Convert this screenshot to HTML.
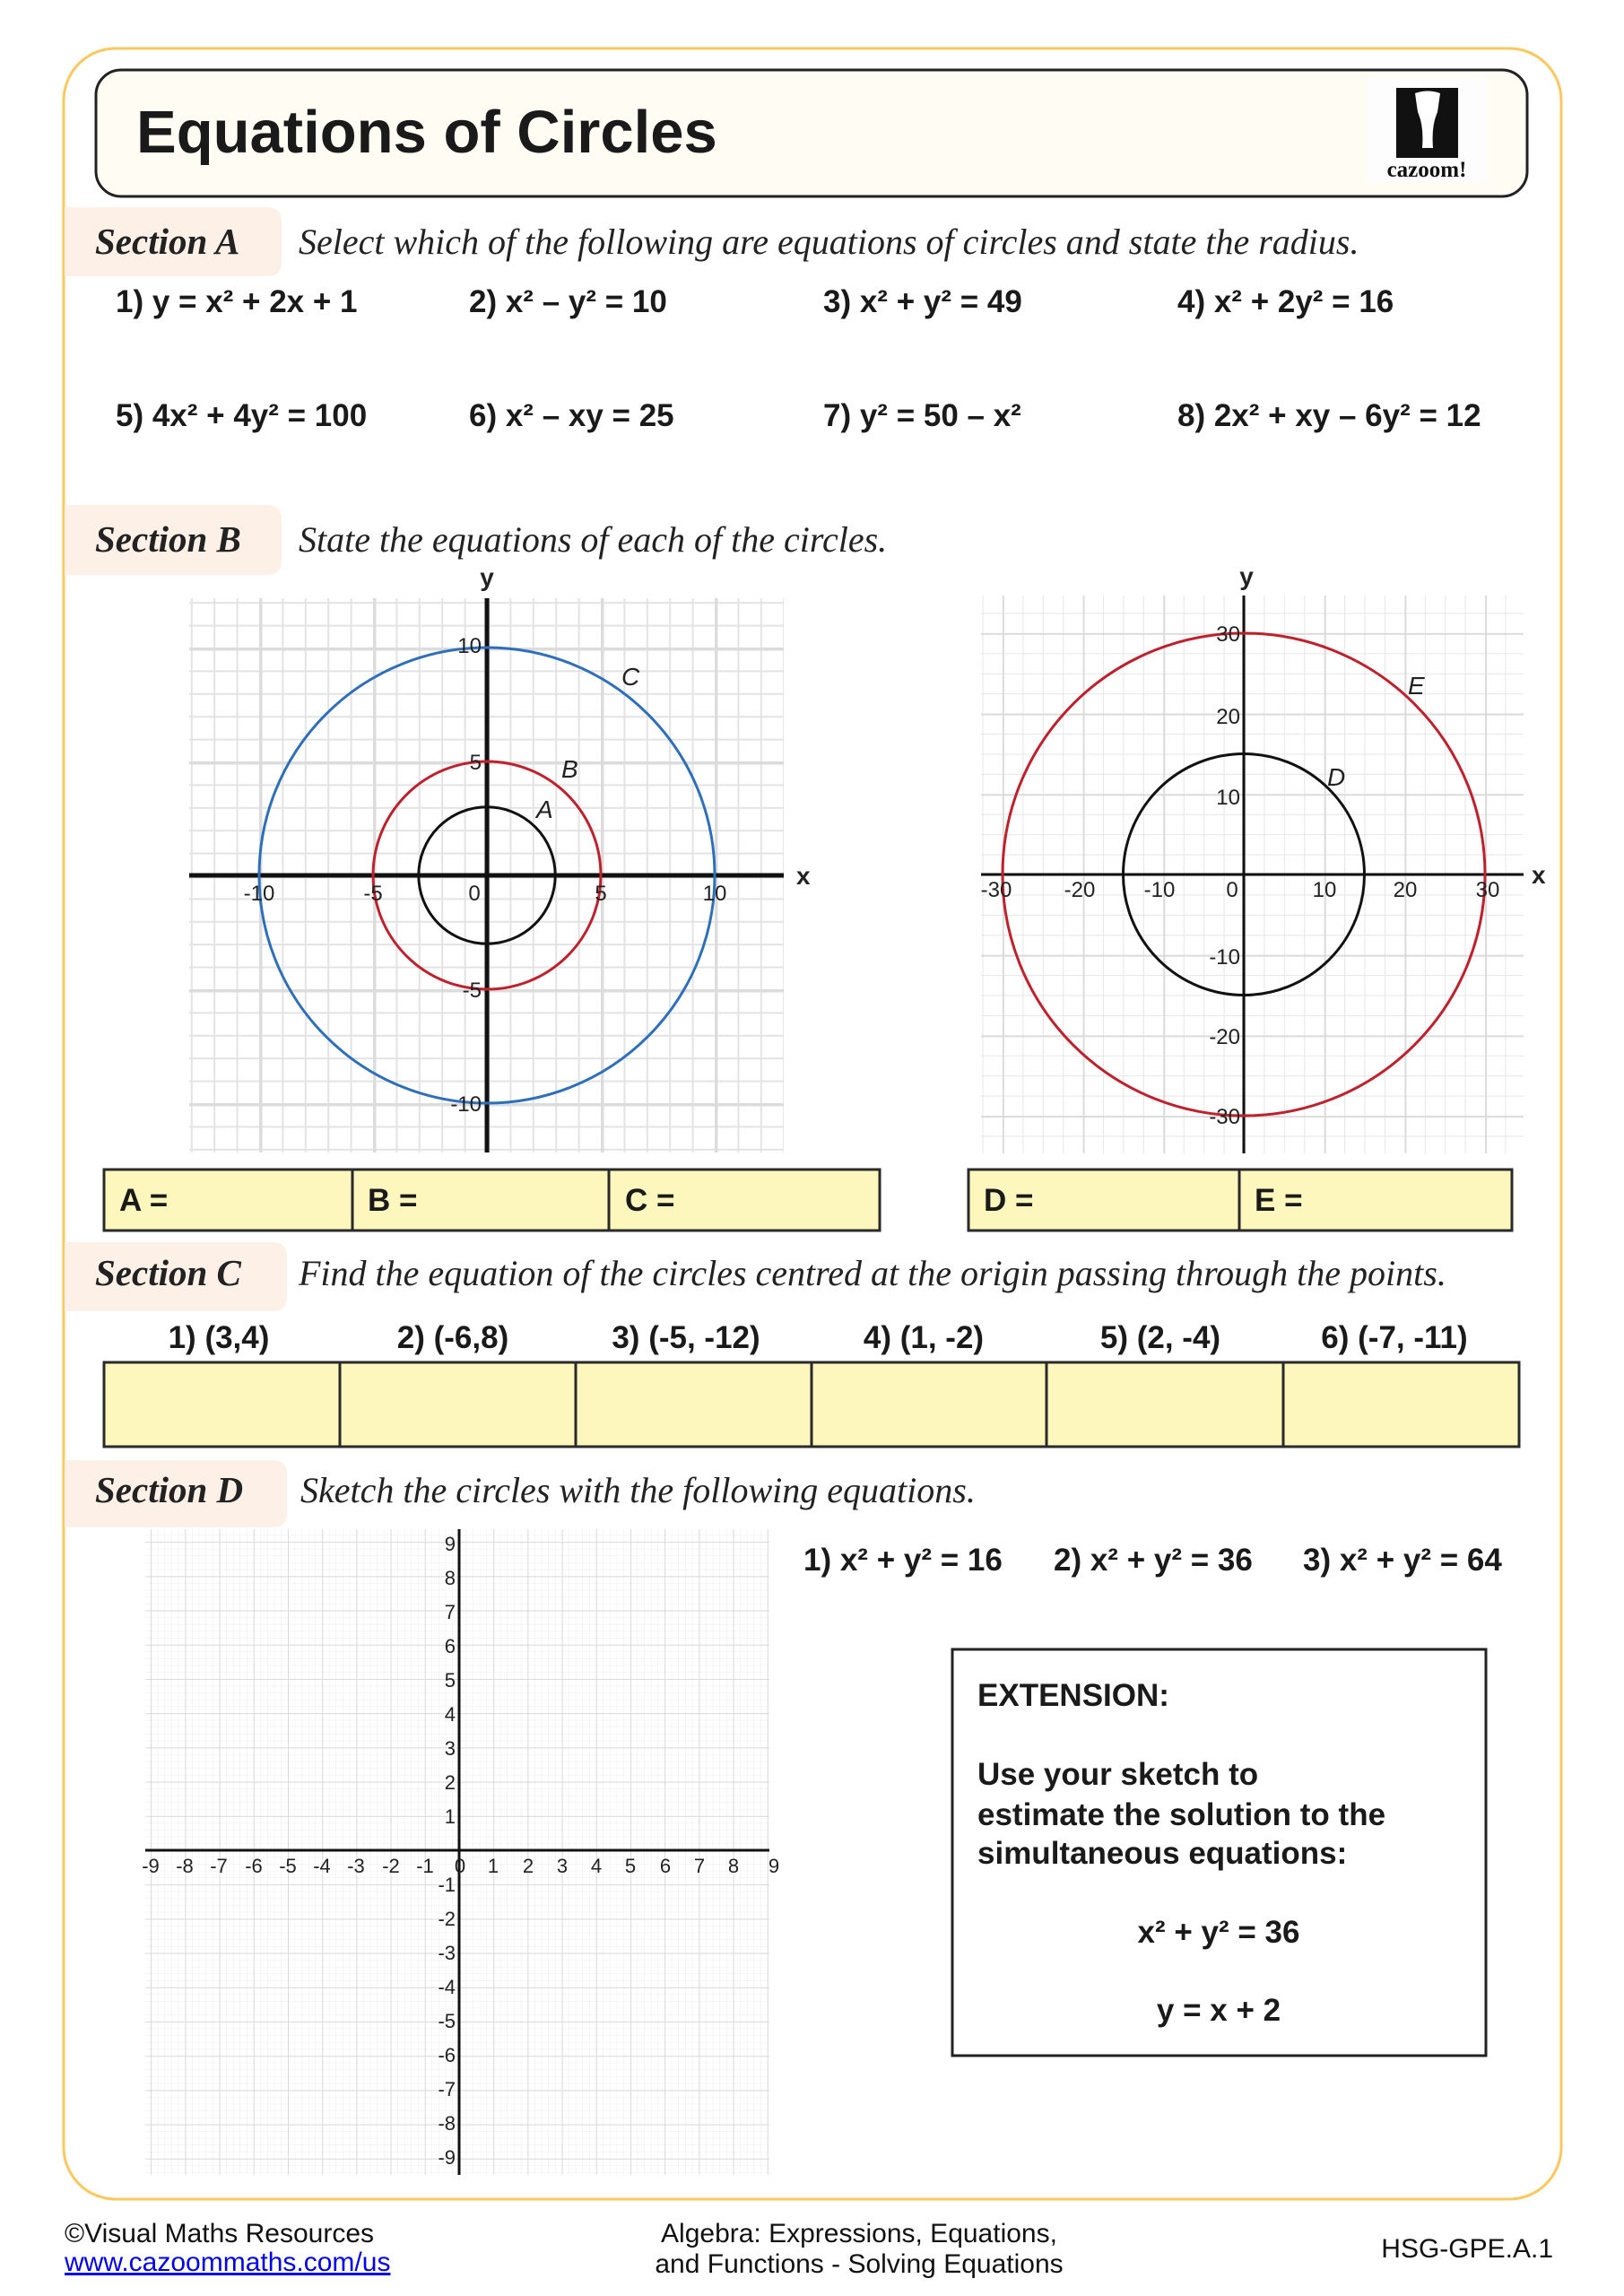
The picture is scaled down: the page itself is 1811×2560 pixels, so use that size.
<!DOCTYPE html>
<html><head><meta charset="utf-8"><style>
html,body{margin:0;padding:0;background:#fff}
svg{display:block}
.s{font-family:"Liberation Sans",sans-serif}
.b{font-weight:bold}
.sec{font-family:"Liberation Serif",serif;font-weight:bold;font-style:italic;font-size:41px;fill:#222}
.ins{font-family:"Liberation Serif",serif;font-style:italic;font-size:40px;fill:#222}
.p{font-family:"Liberation Sans",sans-serif;font-weight:bold;font-size:35px;fill:#1a1a1a}
.t{font-family:"Liberation Sans",sans-serif;font-size:24px;fill:#222}
</style></head><body>
<svg width="1811" height="2560" viewBox="0 0 1811 2560" xmlns="http://www.w3.org/2000/svg">
<defs>
<pattern id="g1" patternUnits="userSpaceOnUse" x="543" y="976" width="25.4" height="25.4"><path d="M0 0V25.4M0 0H25.4" stroke="#e3e3e3" stroke-width="4" fill="none"/></pattern>
<pattern id="g1m" patternUnits="userSpaceOnUse" x="543" y="976" width="127" height="127"><path d="M0 0V127M0 0H127" stroke="#dcdcdc" stroke-width="7" fill="none"/></pattern>
<pattern id="g2" patternUnits="userSpaceOnUse" x="1387" y="975" width="22.42" height="22.42"><path d="M0 0V22.42M0 0H22.42" stroke="#e6e6e6" stroke-width="2" fill="none"/></pattern>
<pattern id="g2m" patternUnits="userSpaceOnUse" x="1387" y="975" width="89.7" height="89.7"><path d="M0 0V89.7M0 0H89.7" stroke="#dcdcdc" stroke-width="4" fill="none"/></pattern>
<pattern id="g3" patternUnits="userSpaceOnUse" x="512" y="2063" width="7.64" height="7.64"><path d="M0 0V7.64M0 0H7.64" stroke="#ececec" stroke-width="1" fill="none"/></pattern>
<pattern id="g3m" patternUnits="userSpaceOnUse" x="512" y="2063" width="38.2" height="38.2"><path d="M0 0V38.2M0 0H38.2" stroke="#dadada" stroke-width="2" fill="none"/></pattern>
</defs>

<rect x="71" y="54" width="1670" height="2398" rx="58" fill="#fff" stroke="#fcc85e" stroke-width="3"/>

<rect x="107" y="78" width="1596" height="141" rx="28" fill="#fffcf4" stroke="#222" stroke-width="3"/>
<text x="152" y="170" class="s b" font-size="67" fill="#1a1a1a">Equations of Circles</text>
<rect x="1524" y="87" width="133" height="116" fill="#fdfdfd"/>
<rect x="1557" y="98" width="69" height="78" fill="#111"/>
<path d="M1578 104 Q1592 99 1606 104 L1603 125 Q1596 140 1598 165 L1586 165 Q1588 140 1581 125 Z" fill="#fff"/>
<text x="1591" y="197" text-anchor="middle" font-family="Liberation Serif,serif" font-weight="bold" font-size="25" fill="#111">cazoom!</text>

<path d="M72 231 H298 Q314 231 314 247 V292 Q314 308 298 308 H72 Z" fill="#fdf0e6"/>
<text x="106" y="283" class="sec">Section A</text>
<text x="333" y="283" class="ins">Select which of the following are equations of circles and state the radius.</text>
<text x="129" y="348" class="p">1) y = x² + 2x + 1</text>
<text x="523" y="348" class="p">2) x² – y² = 10</text>
<text x="918" y="348" class="p">3) x² + y² = 49</text>
<text x="1313" y="348" class="p">4) x² + 2y² = 16</text>
<text x="129" y="475" class="p">5) 4x² + 4y² = 100</text>
<text x="523" y="475" class="p">6) x² – xy = 25</text>
<text x="918" y="475" class="p">7) y² = 50 – x²</text>
<text x="1313" y="475" class="p">8) 2x² + xy – 6y² = 12</text>

<path d="M72 563 H298 Q314 563 314 579 V625 Q314 641 298 641 H72 Z" fill="#fdf0e6"/>
<text x="106" y="615" class="sec">Section B</text>
<text x="333" y="615" class="ins">State the equations of each of the circles.</text>

<rect x="211" y="667" width="663" height="618" fill="url(#g1)"/>
<rect x="211" y="667" width="663" height="618" fill="url(#g1m)"/>
<line x1="211" y1="976" x2="874" y2="976" stroke="#111" stroke-width="5"/>
<line x1="543" y1="667" x2="543" y2="1285" stroke="#111" stroke-width="5"/>
<circle cx="543" cy="976" r="76.2" fill="none" stroke="#111" stroke-width="3"/>
<circle cx="543" cy="976" r="127" fill="none" stroke="#c0202c" stroke-width="3"/>
<circle cx="543" cy="976" r="254" fill="none" stroke="#2e6fbb" stroke-width="3"/>
<text x="543" y="653" text-anchor="middle" class="s b" font-size="28" fill="#222">y</text>
<text x="888" y="986" class="s b" font-size="28" fill="#222">x</text>
<text x="693" y="764" class="s" font-style="italic" font-size="28" fill="#222">C</text>
<text x="626" y="867" class="s" font-style="italic" font-size="28" fill="#222">B</text>
<text x="598" y="912" class="s" font-style="italic" font-size="28" fill="#222">A</text>
<g class="t">
<text x="289" y="1004" text-anchor="middle">-10</text>
<text x="416" y="1004" text-anchor="middle">-5</text>
<text x="529" y="1004" text-anchor="middle">0</text>
<text x="670" y="1004" text-anchor="middle">5</text>
<text x="797" y="1004" text-anchor="middle">10</text>
<text x="537" y="728" text-anchor="end">10</text>
<text x="537" y="858" text-anchor="end">5</text>
<text x="537" y="1112" text-anchor="end">-5</text>
<text x="537" y="1239" text-anchor="end">-10</text>
</g>

<rect x="1094" y="664" width="605" height="622" fill="url(#g2)"/>
<rect x="1094" y="664" width="605" height="622" fill="url(#g2m)"/>
<line x1="1094" y1="975" x2="1699" y2="975" stroke="#111" stroke-width="3"/>
<line x1="1387" y1="664" x2="1387" y2="1286" stroke="#111" stroke-width="3"/>
<circle cx="1387" cy="975" r="134.5" fill="none" stroke="#111" stroke-width="3"/>
<circle cx="1387" cy="975" r="269" fill="none" stroke="#c0202c" stroke-width="3"/>
<text x="1390" y="652" text-anchor="middle" class="s b" font-size="28" fill="#222">y</text>
<text x="1708" y="985" class="s b" font-size="28" fill="#222">x</text>
<text x="1570" y="774" class="s" font-style="italic" font-size="28" fill="#222">E</text>
<text x="1480" y="876" class="s" font-style="italic" font-size="28" fill="#222">D</text>
<g class="t">
<text x="1111" y="1000" text-anchor="middle">-30</text>
<text x="1204" y="1000" text-anchor="middle">-20</text>
<text x="1293" y="1000" text-anchor="middle">-10</text>
<text x="1374" y="1000" text-anchor="middle">0</text>
<text x="1477" y="1000" text-anchor="middle">10</text>
<text x="1567" y="1000" text-anchor="middle">20</text>
<text x="1659" y="1000" text-anchor="middle">30</text>
<text x="1383" y="715" text-anchor="end">30</text>
<text x="1383" y="807" text-anchor="end">20</text>
<text x="1383" y="897" text-anchor="end">10</text>
<text x="1383" y="1075" text-anchor="end">-10</text>
<text x="1383" y="1164" text-anchor="end">-20</text>
<text x="1383" y="1253" text-anchor="end">-30</text>
</g>

<rect x="116" y="1304" width="865" height="68" fill="#fdf7bd" stroke="#2a2a2a" stroke-width="3"/>
<line x1="393" y1="1304" x2="393" y2="1372" stroke="#2a2a2a" stroke-width="3"/>
<line x1="679" y1="1304" x2="679" y2="1372" stroke="#2a2a2a" stroke-width="3"/>
<text x="133" y="1350" class="p">A =</text>
<text x="410" y="1350" class="p">B =</text>
<text x="697" y="1350" class="p">C =</text>
<rect x="1080" y="1304" width="606" height="68" fill="#fdf7bd" stroke="#2a2a2a" stroke-width="3"/>
<line x1="1382" y1="1304" x2="1382" y2="1372" stroke="#2a2a2a" stroke-width="3"/>
<text x="1097" y="1350" class="p">D =</text>
<text x="1399" y="1350" class="p">E =</text>

<path d="M72 1385 H304 Q320 1385 320 1401 V1446 Q320 1462 304 1462 H72 Z" fill="#fdf0e6"/>
<text x="106" y="1433" class="sec">Section C</text>
<text x="333" y="1433" class="ins">Find the equation of the circles centred at the origin passing through the points.</text>
<g class="p" text-anchor="middle">
<text x="244" y="1503">1) (3,4)</text>
<text x="505" y="1503">2) (-6,8)</text>
<text x="765" y="1503">3) (-5, -12)</text>
<text x="1030" y="1503">4) (1, -2)</text>
<text x="1294" y="1503">5) (2, -4)</text>
<text x="1555" y="1503">6) (-7, -11)</text>
</g>
<rect x="116" y="1519" width="1578" height="94" fill="#fdf7bd" stroke="#2a2a2a" stroke-width="3"/>
<g stroke="#2a2a2a" stroke-width="3">
<line x1="379" y1="1519" x2="379" y2="1613"/><line x1="642" y1="1519" x2="642" y2="1613"/>
<line x1="905" y1="1519" x2="905" y2="1613"/><line x1="1167" y1="1519" x2="1167" y2="1613"/>
<line x1="1431" y1="1519" x2="1431" y2="1613"/>
</g>

<path d="M72 1628 H304 Q320 1628 320 1644 V1687 Q320 1703 304 1703 H72 Z" fill="#fdf0e6"/>
<text x="106" y="1675" class="sec">Section D</text>
<text x="335" y="1675" class="ins">Sketch the circles with the following equations.</text>

<rect x="162" y="1705" width="696" height="720" fill="url(#g3)"/>
<rect x="162" y="1705" width="696" height="720" fill="url(#g3m)"/>
<line x1="162" y1="2063" x2="858" y2="2063" stroke="#111" stroke-width="3"/>
<line x1="512" y1="1705" x2="512" y2="2425" stroke="#111" stroke-width="3"/>
<g class="s" font-size="22" fill="#222" text-anchor="middle">
<text x="168" y="2088">-9</text><text x="206" y="2088">-8</text><text x="244" y="2088">-7</text>
<text x="283" y="2088">-6</text><text x="321" y="2088">-5</text><text x="359" y="2088">-4</text>
<text x="397" y="2088">-3</text><text x="436" y="2088">-2</text><text x="474" y="2088">-1</text>
<text x="513" y="2088">0</text><text x="550" y="2088">1</text><text x="589" y="2088">2</text>
<text x="627" y="2088">3</text><text x="665" y="2088">4</text><text x="703" y="2088">5</text>
<text x="742" y="2088">6</text><text x="780" y="2088">7</text><text x="818" y="2088">8</text>
<text x="863" y="2088">9</text>
</g>
<g class="s" font-size="22" fill="#222" text-anchor="end">
<text x="508" y="1729">9</text><text x="508" y="1767">8</text><text x="508" y="1805">7</text>
<text x="508" y="1843">6</text><text x="508" y="1881">5</text><text x="508" y="1919">4</text>
<text x="508" y="1957">3</text><text x="508" y="1995">2</text><text x="508" y="2033">1</text>
<text x="508" y="2109">-1</text><text x="508" y="2147">-2</text><text x="508" y="2185">-3</text>
<text x="508" y="2223">-4</text><text x="508" y="2261">-5</text><text x="508" y="2299">-6</text>
<text x="508" y="2337">-7</text><text x="508" y="2375">-8</text><text x="508" y="2413">-9</text>
</g>

<text x="896" y="1751" class="p">1) x² + y² = 16</text>
<text x="1175" y="1751" class="p">2) x² + y² = 36</text>
<text x="1453" y="1751" class="p">3) x² + y² = 64</text>

<rect x="1062" y="1839" width="595" height="453" fill="#fff" stroke="#222" stroke-width="3"/>
<g class="p" font-size="36">
<text x="1090" y="1902">EXTENSION:</text>
<text x="1090" y="1990">Use your sketch to</text>
<text x="1090" y="2035">estimate the solution to the</text>
<text x="1090" y="2078">simultaneous equations:</text>
<text x="1359" y="2166" text-anchor="middle">x² + y² = 36</text>
<text x="1359" y="2253" text-anchor="middle">y = x + 2</text>
</g>

<g class="s" font-size="30" fill="#111">
<text x="72" y="2500">©Visual Maths Resources</text>
<text x="72" y="2532" fill="#0000ee" text-decoration="underline">www.cazoommaths.com/us</text>
<text x="958" y="2500" text-anchor="middle">Algebra: Expressions, Equations,</text>
<text x="958" y="2534" text-anchor="middle">and Functions - Solving Equations</text>
<text x="1732" y="2517" text-anchor="end">HSG-GPE.A.1</text>
</g>
</svg>
</body></html>
